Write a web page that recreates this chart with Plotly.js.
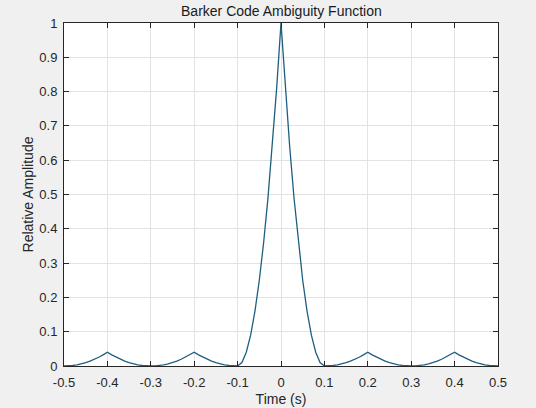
<!DOCTYPE html>
<html>
<head>
<meta charset="utf-8">
<script src="https://cdn.plot.ly/plotly-3.0.1.min.js"></script>
<style>html,body{margin:0;padding:0;background:#f0f0f0;}#chart{width:536px;height:408px;}</style>
</head>
<body>
<div id="chart"></div>
<script>
// Time axis (s)
const time = [
 -0.50,-0.49,-0.48,-0.47,-0.46,-0.45,-0.44,-0.43,-0.42,-0.41,
 -0.40,-0.39,-0.38,-0.37,-0.36,-0.35,-0.34,-0.33,-0.32,-0.31,
 -0.30,-0.29,-0.28,-0.27,-0.26,-0.25,-0.24,-0.23,-0.22,-0.21,
 -0.20,-0.19,-0.18,-0.17,-0.16,-0.15,-0.14,-0.13,-0.12,-0.11,
 -0.10,-0.09,-0.08,-0.07,-0.06,-0.05,-0.04,-0.03,-0.02,-0.01,
 0.00,0.01,0.02,0.03,0.04,0.05,0.06,0.07,0.08,0.09,
 0.10,0.11,0.12,0.13,0.14,0.15,0.16,0.17,0.18,0.19,
 0.20,0.21,0.22,0.23,0.24,0.25,0.26,0.27,0.28,0.29,
 0.30,0.31,0.32,0.33,0.34,0.35,0.36,0.37,0.38,0.39,
 0.40,0.41,0.42,0.43,0.44,0.45,0.46,0.47,0.48,0.49,
 0.50
];
// Relative amplitude
const amplitude = [
 0,0.0004,0.0016,0.0036,0.0064,0.01,0.0144,0.0196,0.0256,0.0324,
 0.04,0.0324,0.0256,0.0196,0.0144,0.01,0.0064,0.0036,0.0016,0.0004,
 0,0.0004,0.0016,0.0036,0.0064,0.01,0.0144,0.0196,0.0256,0.0324,
 0.04,0.0324,0.0256,0.0196,0.0144,0.01,0.0064,0.0036,0.0016,0.0004,
 0,0.01,0.04,0.09,0.16,0.25,0.36,0.49,0.64,0.81,
 1,0.81,0.64,0.49,0.36,0.25,0.16,0.09,0.04,0.01,
 0,0.0004,0.0016,0.0036,0.0064,0.01,0.0144,0.0196,0.0256,0.0324,
 0.04,0.0324,0.0256,0.0196,0.0144,0.01,0.0064,0.0036,0.0016,0.0004,
 0,0.0004,0.0016,0.0036,0.0064,0.01,0.0144,0.0196,0.0256,0.0324,
 0.04,0.0324,0.0256,0.0196,0.0144,0.01,0.0064,0.0036,0.0016,0.0004,
 0
];
const xTicks = [-0.5,-0.4,-0.3,-0.2,-0.1,0,0.1,0.2,0.3,0.4,0.5];
const xTickLabels = ['-0.5','-0.4','-0.3','-0.2','-0.1','0','0.1','0.2','0.3','0.4','0.5'];
const yTicks = [0,0.1,0.2,0.3,0.4,0.5,0.6,0.7,0.8,0.9,1];
const yTickLabels = ['0','0.1','0.2','0.3','0.4','0.5','0.6','0.7','0.8','0.9','1'];

const font = 'Arial, "Liberation Sans", sans-serif';
const trace = {
  x: time, y: amplitude, type: 'scatter', mode: 'lines',
  line: {color: '#1d5f80', width: 1.3}, hoverinfo: 'skip'
};
const axisCommon = {
  showline: true, linecolor: '#262626', linewidth: 1, mirror: 'ticks',
  ticks: 'inside', ticklen: 5, tickcolor: '#262626', tickwidth: 1,
  showgrid: true, gridcolor: '#e3e3e3', gridwidth: 1, zeroline: false,
  tickfont: {family: font, size: 13, color: '#262626'}
};
const layout = {
  width: 536, height: 408,
  paper_bgcolor: '#f0f0f0', plot_bgcolor: '#ffffff',
  margin: {l: 64, r: 38, t: 23, b: 42},
  showlegend: false,
  title: {text: 'Barker Code Ambiguity Function', font: {family: font, size: 14, color: '#1a1a1a'},
          x: 0.525, xanchor: 'center', y: 0.972, yanchor: 'middle'},
  xaxis: Object.assign({}, axisCommon, {
    range: [-0.5, 0.5], tickmode: 'array', tickvals: xTicks, ticktext: xTickLabels,
    ticklabelstandoff: 4,
    title: {text: 'Time (s)', font: {family: font, size: 14, color: '#262626'}, standoff: 5}
  }),
  yaxis: Object.assign({}, axisCommon, {
    range: [0, 1], tickmode: 'array', tickvals: yTicks, ticktext: yTickLabels,
    ticklabelstandoff: 3,
    title: {text: 'Relative Amplitude', font: {family: font, size: 14, color: '#262626'}, standoff: 2}
  })
};
Plotly.newPlot('chart', [trace], layout, {displayModeBar: false, staticPlot: true});
</script>
</body>
</html>
